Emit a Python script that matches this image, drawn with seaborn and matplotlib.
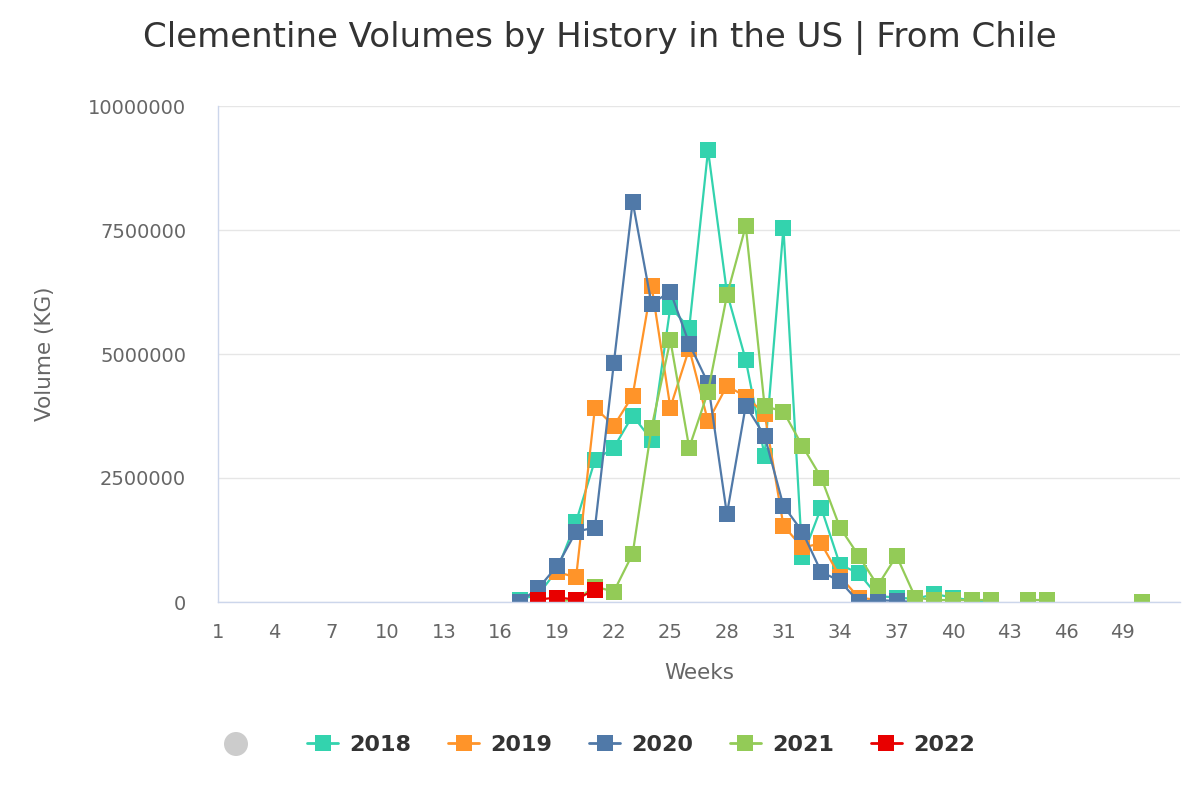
import numpy as np
import pandas as pd
import matplotlib
matplotlib.use("Agg")
import matplotlib.pyplot as plt
from matplotlib.lines import Line2D
from matplotlib.patches import Ellipse
import seaborn as sns

# ---------------- data ----------------
YEARS = ["2018", "2019", "2020", "2021", "2022"]
COLORS = ["#33D3AE", "#FF9429", "#5079A8", "#93CB57", "#E80000"]

WEEKS_2018 = list(range(17, 43))
VOL_2018 = [50000, 150000, 650000, 1620000, 2860000, 3110000, 3760000, 3270000,
            5950000, 5520000, 9110000, 6240000, 4880000, 2950000, 7540000, 900000,
            1900000, 750000, 580000, 120000, 90000, 60000, 160000, 90000, 30000, 0]

WEEKS_2019 = list(range(19, 37))
VOL_2019 = [600000, 500000, 3920000, 3550000, 4160000, 6380000, 3920000, 5110000,
            3640000, 4360000, 4140000, 3800000, 1540000, 1100000, 1180000, 510000,
            90000, 40000]

WEEKS_2020 = list(range(17, 39))
VOL_2020 = [0, 280000, 730000, 1420000, 1500000, 4810000, 8070000, 6010000,
            6260000, 5210000, 4410000, 1770000, 3960000, 3350000, 1940000, 1420000,
            610000, 420000, 0, 40000, 20000, 0]

WEEKS_2021 = list(range(19, 51))
VOL_2021 = [10000, 50000, 310000, 210000, 970000, 3510000, 5280000, 3110000,
            4240000, 6180000, 7580000, 3950000, 3840000, 3150000, 2510000, 1500000,
            930000, 330000, 930000, 90000, 40000, 40000, 40000, 40000, np.nan,
            40000, 40000, np.nan, np.nan, np.nan, np.nan, 0]

WEEKS_2022 = [18, 19, 20, 21]
VOL_2022 = [50000, 90000, 50000, 250000]

X_TICKS = list(range(1, 50, 3))
Y_TICKS = [0, 2500000, 5000000, 7500000, 10000000]

TITLE = "Clementine Volumes by History in the US | From Chile"

# ---------------- long table with gap-aware segments ----------------
rows = []
for yr, wk, vol in zip(YEARS,
                       [WEEKS_2018, WEEKS_2019, WEEKS_2020, WEEKS_2021, WEEKS_2022],
                       [VOL_2018, VOL_2019, VOL_2020, VOL_2021, VOL_2022]):
    seg = 0
    for w, v in zip(wk, vol):
        if v is None or (isinstance(v, float) and np.isnan(v)):
            seg += 1
            continue
        rows.append({"week": w, "volume": v, "year": yr, "seg": f"{yr}-{seg}"})
df = pd.DataFrame(rows)

# ---------------- style ----------------
sns.set_theme(style="white")
plt.rcParams["font.family"] = ["DejaVu Sans"]

fig = plt.figure(figsize=(12, 8), dpi=100)
ax = fig.add_axes([218 / 1200, 1 - 602 / 800, (1180 - 218) / 1200, (602 - 106) / 800])

palette = dict(zip(YEARS, COLORS))
sns.lineplot(data=df, x="week", y="volume", hue="year", units="seg",
             estimator=None, palette=palette, hue_order=YEARS,
             marker="s", markersize=11.5, markeredgewidth=0,
             linewidth=1.6, legend=False, sort=True, ax=ax)

ax.set_xlim(1, 52.04)
ax.set_ylim(0, 10000000)
ax.set_xticks(X_TICKS)
ax.set_xticklabels([str(t) for t in X_TICKS])
ax.set_yticks(Y_TICKS)
ax.set_yticklabels([str(t) for t in Y_TICKS])

ax.grid(axis="y", color="#e6e6e6", linewidth=1)
ax.grid(axis="x", visible=False)
ax.set_axisbelow(True)
for s in ["top", "right"]:
    ax.spines[s].set_visible(False)
for s in ["left", "bottom"]:
    ax.spines[s].set_color("#ccd6eb")
    ax.spines[s].set_linewidth(1)

ax.tick_params(axis="both", length=0, labelsize=14, labelcolor="#666666")
ax.tick_params(axis="y", pad=23)
ax.tick_params(axis="x", pad=15)

ax.set_xlabel("Weeks", fontsize=15.5, color="#666666", labelpad=15)
ax.set_ylabel("Volume (KG)", fontsize=15.5, color="#666666", labelpad=24)

fig.text(0.5, 1 - 38 / 800, TITLE, ha="center", va="center",
         fontsize=24.5, color="#333333")

# legend
handles = [Line2D([0], [0], color=c, lw=2, marker="s", markersize=11.5,
                  markeredgewidth=0) for c in COLORS]
leg = fig.legend(handles, YEARS, loc="center", bbox_to_anchor=(641 / 1200, 1 - 745 / 800),
                 ncol=5, frameon=False, handlelength=1.4, handletextpad=0.5,
                 columnspacing=1.65, prop={"weight": "bold", "size": 16})
for t in leg.get_texts():
    t.set_color("#333333")

fig.patches.append(Ellipse((236 / 1200, 1 - 744 / 800), 24 / 1200, 24 / 800,
                           transform=fig.transFigure, facecolor="#cccccc",
                           edgecolor="none"))

fig.savefig("out.png", dpi=100)
